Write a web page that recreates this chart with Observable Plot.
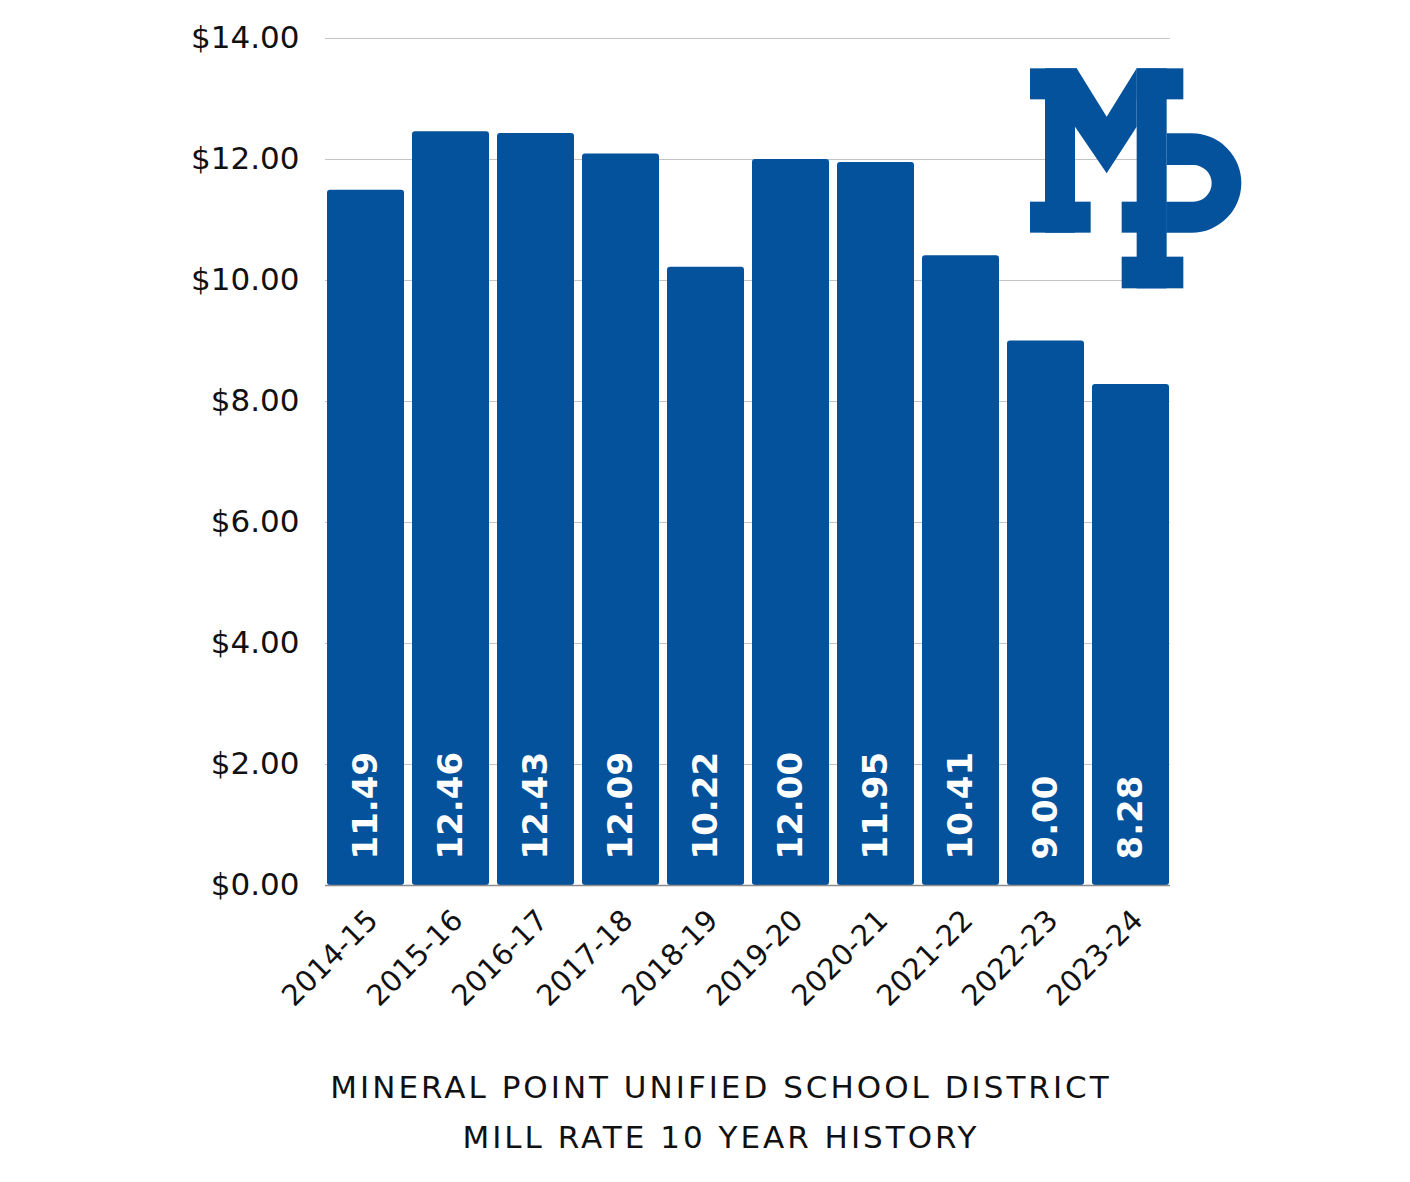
<!DOCTYPE html>
<html><head><meta charset="utf-8">
<script src="https://cdn.jsdelivr.net/npm/d3@7"></script>
<script src="https://cdn.jsdelivr.net/npm/@observablehq/plot@0.6"></script>
<style>
body{margin:0;background:#fff;width:1410px;height:1182px;position:relative;overflow:hidden;font-family:"DejaVu Sans",sans-serif}
#chart{position:absolute;left:0;top:0}
#title{position:absolute;left:0;width:1442px;top:1062px;text-align:center;font-size:31px;letter-spacing:3px;line-height:50px;color:#111}
#logo{position:absolute;left:1010px;top:50px}
</style></head><body>
<div id="chart"></div>
<div id="title">MINERAL POINT UNIFIED SCHOOL DISTRICT<br>MILL RATE 10 YEAR HISTORY</div>
<svg id="logo" width="250" height="260" viewBox="0 0 750 780">
  <g fill="#03529b">
    <rect x="60" y="55" width="140" height="93"/>
    <rect x="105" y="55" width="90" height="493"/>
    <rect x="60" y="455" width="182" height="93"/>
    <polygon points="195,55 200,55 290,200 380,55 380,230 290,370 195,230"/>
    <rect x="380" y="55" width="140" height="93"/>
    <rect x="380" y="55" width="90" height="660"/>
    <rect x="335" y="455" width="135" height="93"/>
    <rect x="335" y="620" width="185" height="95"/>
    <path fill-rule="evenodd" d="M470,250 H545 A149,149 0 0 1 545,548 H470 Z M470,345 H550 A55,55 0 0 1 550,455 H470 Z"/>
  </g>
</svg>
<script>
const years = ["2014-15","2015-16","2016-17","2017-18","2018-19","2019-20","2020-21","2021-22","2022-23","2023-24"];
const rates = [11.49,12.46,12.43,12.09,10.22,12.00,11.95,10.41,9.00,8.28];
const yTicks = [0,2,4,6,8,10,12,14];
const BLUE = "#03529b";
const data = years.map((y,i)=>({year:y, rate:rates[i]}));

const chart = Plot.plot({
  width:1410, height:1050,
  marginLeft:325, marginRight:240, marginTop:38, marginBottom:165,
  x:{domain:years, paddingInner:0.1, paddingOuter:0, align:0.5},
  y:{domain:[0,14]},
  style:{fontFamily:"'DejaVu Sans', sans-serif", color:"#111", background:"transparent"},
  marks:[
    Plot.gridY(yTicks,{stroke:"#c4c4c4", strokeOpacity:1, strokeWidth:1}),
    Plot.barY(data,{x:"year", y:"rate", fill:BLUE, rx:3}),
    Plot.ruleY([0],{stroke:"#8c8c8c", strokeWidth:1.5}),
    Plot.text(data,{x:"year", y:0, text:d=>d.rate.toFixed(2), rotate:-90, textAnchor:"start", dy:-26, fill:"white", fontSize:34, fontWeight:"bold"}),
    Plot.axisY(yTicks,{tickSize:0, tickPadding:26, tickFormat:d=>"$"+d.toFixed(2), fontSize:31, label:null}),
    Plot.axisX({tickSize:0, tickRotate:-45, fontSize:29, label:null, tickPadding:10, dx:7, dy:20})
  ]
});
document.getElementById("chart").appendChild(chart);
</script>
</body></html>
